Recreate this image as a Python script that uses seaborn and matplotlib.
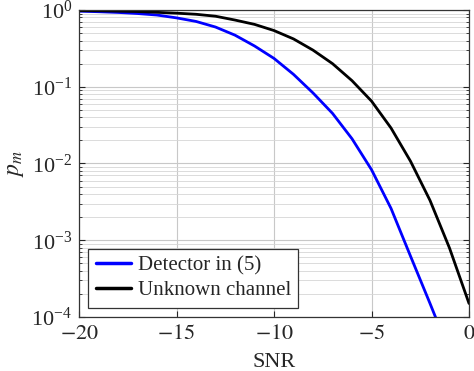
import numpy as np
import pandas as pd
import seaborn as sns
import matplotlib.pyplot as plt

snr = [-20, -19, -18, -17, -16, -15, -14, -13, -12, -11, -10,
       -9, -8, -7, -6, -5, -4, -3, -2, -1, 0]

detector_pm = [0.966, 0.95, 0.93, 0.90, 0.86, 0.79, 0.71, 0.60, 0.47, 0.34, 0.234,
               0.145, 0.083, 0.045, 0.021, 0.0083, 0.0026, 6.2e-4, 1.5e-4, 3.5e-5, 8e-6]
unknown_pm = [0.98, 0.977, 0.966, 0.955, 0.933, 0.91, 0.88, 0.83, 0.74, 0.65, 0.54,
              0.42, 0.30, 0.20, 0.12, 0.065, 0.029, 0.0107, 0.0033, 7.9e-4, 1.5e-4]

labels = ["Detector in (5)", "Unknown channel"]
colors = ["#0000ff", "#000000"]

df = pd.concat([
    pd.DataFrame({"SNR": snr, "pm": detector_pm, "curve": labels[0]}),
    pd.DataFrame({"SNR": snr, "pm": unknown_pm, "curve": labels[1]}),
])

sns.set_style("white")
plt.rcParams["font.family"] = ["Liberation Serif", "DejaVu Serif"]
plt.rcParams["mathtext.fontset"] = "stix"

fig = plt.figure(figsize=(4.74, 3.71), dpi=100)
ax = fig.add_axes([0.1667, 0.1456, 0.8228, 0.8274])

sns.lineplot(data=df, x="SNR", y="pm", hue="curve", palette=colors,
             linewidth=2.0, ax=ax)

ax.set_yscale("log")
ax.set_xlim(-20, 0)
ax.set_ylim(1e-4, 1)
ax.set_xticks([-20, -15, -10, -5, 0])
ax.set_xticklabels([r"$-20$", r"$-15$", r"$-10$", r"$-5$", r"$0$"])

ax.grid(True, which="major", color="#c8c8c8", linewidth=0.8)
ax.grid(True, which="minor", axis="y", color="#d6d6d6", linewidth=0.6)
ax.tick_params(which="both", direction="in", labelsize=16, length=4,
               top=False, right=True, left=True, bottom=True)
ax.tick_params(which="minor", length=2.5)
ax.tick_params(axis="x", pad=6)
ax.tick_params(axis="y", pad=5)
for s in ax.spines.values():
    s.set_color("#333333")
    s.set_linewidth(0.9)

ax.set_xlabel("SNR", fontsize=16, labelpad=6)
ax.set_ylabel(r"$p_m$", fontsize=17, labelpad=4)

leg = ax.legend(loc="lower left", fontsize=15, frameon=True, fancybox=False,
                edgecolor="#333333", framealpha=1, borderpad=0.35,
                handlelength=1.68, handletextpad=0.34, labelspacing=0.25,
                borderaxespad=0.45)
leg.get_frame().set_linewidth(0.9)
for line in leg.get_lines():
    line.set_linewidth(2.5)

fig.savefig("out.png", dpi=100)
